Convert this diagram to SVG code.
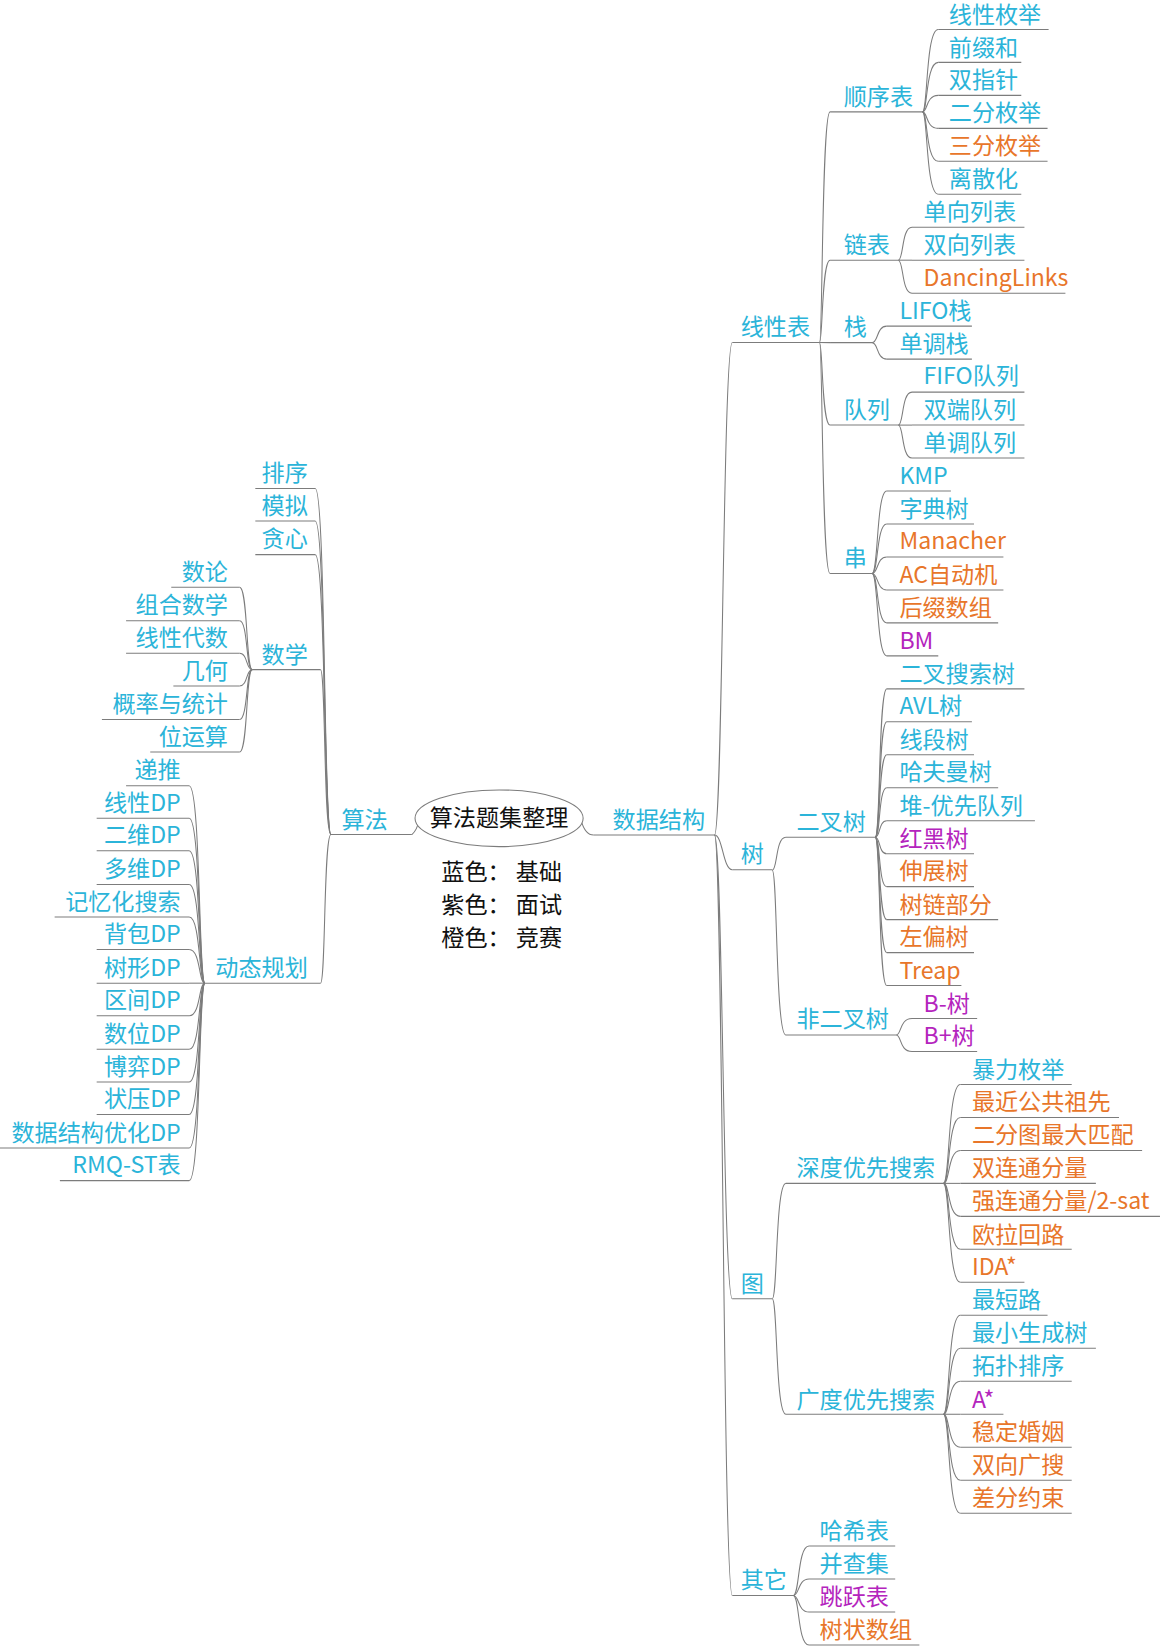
<svg xmlns="http://www.w3.org/2000/svg" width="1160" height="1647" viewBox="0 0 1160 1647">
<style>
text{font-family:"Noto Sans CJK SC","Liberation Sans",sans-serif;font-size:22px}
.b{fill:#2bb4d9}.o{fill:#e8762a}.p{fill:#b424bd}.k{fill:#111}
.ln{stroke:#7c7c7c;stroke-width:1;fill:none}
.e{text-anchor:end}
</style>
<rect width="1160" height="1647" fill="#fff"/>
<g transform="scale(1.0507,1.0504)">
<g id="connectors" class="ln">
<path d="M553,781 Q557,795 565,795"/>
<path d="M392,794.5 Q397,790 398,783"/>
<path d="M680,795 C688,795 688,326 697,326"/>
<path d="M680,795 C688,795 688,828 697,828"/>
<path d="M680,795 C688,795 688,1236.5 697,1236.5"/>
<path d="M680,795 C688,795 688,1519 697,1519"/>
<path d="M780,326 C783,326 782,106.5 790,106.5"/>
<path d="M780,326 C783,326 782,247.7 790,247.7"/>
<path d="M780,326 L790,326.2"/>
<path d="M780,326 C783,326 782,404.7 790,404.7"/>
<path d="M780,326 C783,326 782,546 790,546"/>
<path d="M878,106.5 C883,106.5 881,28 893,28"/>
<path d="M878,106.5 C883,106.5 881,59.4 893,59.4"/>
<path d="M878,106.5 C883,106.5 881,90.8 893,90.8"/>
<path d="M878,106.5 C883,106.5 881,122.2 893,122.2"/>
<path d="M878,106.5 C883,106.5 881,153.6 893,153.6"/>
<path d="M878,106.5 C883,106.5 881,184.9 893,184.9"/>
<path d="M855,247.7 C860,247.7 858,216.3 868,216.3"/>
<path d="M855,247.7 L868,247.7"/>
<path d="M855,247.7 C860,247.7 858,279.1 868,279.1"/>
<path d="M830,326.2 C836,326.2 834,310.5 844,310.5"/>
<path d="M830,326.2 C836,326.2 834,341.9 844,341.9"/>
<path d="M855,404.7 C860,404.7 858,373.3 868,373.3"/>
<path d="M855,404.7 L868,404.7"/>
<path d="M855,404.7 C860,404.7 858,436.1 868,436.1"/>
<path d="M830,546 C836,546 834,467.5 844,467.5"/>
<path d="M830,546 C836,546 834,498.9 844,498.9"/>
<path d="M830,546 C836,546 834,530.2 844,530.2"/>
<path d="M830,546 C836,546 834,561.6 844,561.6"/>
<path d="M830,546 C836,546 834,593 844,593"/>
<path d="M830,546 C836,546 834,624.4 844,624.4"/>
<path d="M735,828.4 C740,828.4 738,797.1 748,797.1"/>
<path d="M735,828.4 C740,828.4 738,985.4 748,985.4"/>
<path d="M833,797.1 C838,797.1 836,655.8 844,655.8"/>
<path d="M833,797.1 C838,797.1 836,687.2 844,687.2"/>
<path d="M833,797.1 C838,797.1 836,718.6 844,718.6"/>
<path d="M833,797.1 C838,797.1 836,750 844,750"/>
<path d="M833,797.1 C838,797.1 836,781.4 844,781.4"/>
<path d="M833,797.1 C838,797.1 836,812.8 844,812.8"/>
<path d="M833,797.1 C838,797.1 836,844.1 844,844.1"/>
<path d="M833,797.1 C838,797.1 836,875.5 844,875.5"/>
<path d="M833,797.1 C838,797.1 836,906.9 844,906.9"/>
<path d="M833,797.1 C838,797.1 836,938.3 844,938.3"/>
<path d="M853,985.4 C858,985.4 856,969.7 868,969.7"/>
<path d="M853,985.4 C858,985.4 856,1001.1 868,1001.1"/>
<path d="M735,1236.5 C740,1236.5 738,1126.6 748,1126.6"/>
<path d="M735,1236.5 C740,1236.5 738,1346.4 748,1346.4"/>
<path d="M898,1126.6 C904,1126.6 902,1032.5 914,1032.5"/>
<path d="M898,1126.6 C904,1126.6 902,1063.9 914,1063.9"/>
<path d="M898,1126.6 C904,1126.6 902,1095.3 914,1095.3"/>
<path d="M898,1126.6 L914,1126.6"/>
<path d="M898,1126.6 C904,1126.6 902,1158 914,1158"/>
<path d="M898,1126.6 C904,1126.6 902,1189.4 914,1189.4"/>
<path d="M898,1126.6 C904,1126.6 902,1220.8 914,1220.8"/>
<path d="M898,1346.4 C904,1346.4 902,1252.2 914,1252.2"/>
<path d="M898,1346.4 C904,1346.4 902,1283.6 914,1283.6"/>
<path d="M898,1346.4 C904,1346.4 902,1315 914,1315"/>
<path d="M898,1346.4 L914,1346.4"/>
<path d="M898,1346.4 C904,1346.4 902,1377.8 914,1377.8"/>
<path d="M898,1346.4 C904,1346.4 902,1409.2 914,1409.2"/>
<path d="M898,1346.4 C904,1346.4 902,1440.6 914,1440.6"/>
<path d="M755,1519 C761,1519 759,1471.9 770,1471.9"/>
<path d="M755,1519 C761,1519 759,1503.3 770,1503.3"/>
<path d="M755,1519 C761,1519 759,1534.7 770,1534.7"/>
<path d="M755,1519 C761,1519 759,1566.1 770,1566.1"/>
<path d="M315,794.5 C308,794.5 310,465 300,465"/>
<path d="M315,794.5 C308,794.5 310,496 300,496"/>
<path d="M315,794.5 C308,794.5 310,528 300,528"/>
<path d="M315,794.5 C308,794.5 310,637.5 305,637.5"/>
<path d="M315,794.5 C308,794.5 310,936 305,936"/>
<path d="M240,637.5 C234,637.5 236,559 228,559"/>
<path d="M240,637.5 C234,637.5 236,591 228,591"/>
<path d="M240,637.5 C234,637.5 236,622 228,622"/>
<path d="M240,637.5 C234,637.5 236,653 228,653"/>
<path d="M240,637.5 C234,637.5 236,685 228,685"/>
<path d="M240,637.5 C234,637.5 236,716 228,716"/>
<path d="M195,936 C189,936 191,748 180,748"/>
<path d="M195,936 C189,936 191,779 180,779"/>
<path d="M195,936 C189,936 191,810 180,810"/>
<path d="M195,936 C189,936 191,842 180,842"/>
<path d="M195,936 C189,936 191,873 180,873"/>
<path d="M195,936 C189,936 191,904 180,904"/>
<path d="M195,936 L180,936"/>
<path d="M195,936 C189,936 191,967 180,967"/>
<path d="M195,936 C189,936 191,999 180,999"/>
<path d="M195,936 C189,936 191,1030 180,1030"/>
<path d="M195,936 C189,936 191,1061 180,1061"/>
<path d="M195,936 C189,936 191,1093 180,1093"/>
<path d="M195,936 C189,936 191,1124 180,1124"/>
</g>
<g id="root"><ellipse cx="475" cy="779" rx="80" ry="27" fill="#fff" stroke="#7c7c7c"/><text x="475" y="786" class="k" text-anchor="middle">算法题集整理</text></g>
<g id="legend" class="k"><text x="420" y="838">蓝色：  基础</text><text x="420" y="869">紫色：  面试</text><text x="420" y="901">橙色：  竞赛</text></g>
<g id="n-sjjg"><path class="ln" d="M565,795 H680"/><text x="583" y="788" class="b">数据结构</text></g>
<g id="n-xxb"><path class="ln" d="M697,326 H780"/><text x="705" y="319" class="b">线性表</text></g>
<g id="n-shu"><path class="ln" d="M697,828 H735"/><text x="705" y="821" class="b">树</text></g>
<g id="n-tu"><path class="ln" d="M697,1236.5 H735"/><text x="705" y="1230" class="b">图</text></g>
<g id="n-qt"><path class="ln" d="M697,1519 H755"/><text x="705" y="1512" class="b">其它</text></g>
<g id="n-sxb"><path class="ln" d="M790,106.5 H878"/><text x="803" y="100" class="b">顺序表</text></g>
<g id="n-lb"><path class="ln" d="M790,247.7 H855"/><text x="803" y="241" class="b">链表</text></g>
<g id="n-zhan"><path class="ln" d="M790,326.2 H830"/><text x="803" y="319" class="b">栈</text></g>
<g id="n-dl"><path class="ln" d="M790,404.7 H855"/><text x="803" y="398" class="b">队列</text></g>
<g id="n-chuan"><path class="ln" d="M790,546 H830"/><text x="803" y="539" class="b">串</text></g>
<g id="n-ecs"><path class="ln" d="M748,797.1 H833"/><text x="758" y="790" class="b">二叉树</text></g>
<g id="n-fecs"><path class="ln" d="M748,985.4 H853"/><text x="758" y="978" class="b">非二叉树</text></g>
<g id="n-dfs"><path class="ln" d="M748,1126.6 H898"/><text x="758" y="1120" class="b">深度优先搜索</text></g>
<g id="n-bfs"><path class="ln" d="M748,1346.4 H898"/><text x="758" y="1340" class="b">广度优先搜索</text></g>
<g id="l0"><path class="ln" d="M893,28 H998"/><text x="903" y="22" class="b">线性枚举</text></g>
<g id="l1"><path class="ln" d="M893,59.4 H972"/><text x="903" y="53" class="b">前缀和</text></g>
<g id="l2"><path class="ln" d="M893,90.8 H972"/><text x="903" y="84" class="b">双指针</text></g>
<g id="l3"><path class="ln" d="M893,122.2 H997"/><text x="903" y="115" class="b">二分枚举</text></g>
<g id="l4"><path class="ln" d="M893,153.6 H997"/><text x="903" y="147" class="o">三分枚举</text></g>
<g id="l5"><path class="ln" d="M893,184.9 H972"/><text x="903" y="178" class="b">离散化</text></g>
<g id="l6"><path class="ln" d="M868,216.3 H975"/><text x="879" y="209" class="b">单向列表</text></g>
<g id="l7"><path class="ln" d="M868,247.7 H975"/><text x="879" y="241" class="b">双向列表</text></g>
<g id="l8"><path class="ln" d="M868,279.1 H1014"/><text x="879" y="272" class="o">DancingLinks</text></g>
<g id="l9"><path class="ln" d="M844,310.5 H925"/><text x="856" y="304" class="b">LIFO栈</text></g>
<g id="l10"><path class="ln" d="M844,341.9 H925"/><text x="856" y="335" class="b">单调栈</text></g>
<g id="l11"><path class="ln" d="M868,373.3 H975"/><text x="879" y="366" class="b">FIFO队列</text></g>
<g id="l12"><path class="ln" d="M868,404.7 H975"/><text x="879" y="398" class="b">双端队列</text></g>
<g id="l13"><path class="ln" d="M868,436.1 H975"/><text x="879" y="429" class="b">单调队列</text></g>
<g id="l14"><path class="ln" d="M844,467.5 H905"/><text x="856" y="461" class="b">KMP</text></g>
<g id="l15"><path class="ln" d="M844,498.9 H927"/><text x="856" y="492" class="b">字典树</text></g>
<g id="l16"><path class="ln" d="M844,530.2 H955"/><text x="856" y="523" class="o">Manacher</text></g>
<g id="l17"><path class="ln" d="M844,561.6 H955"/><text x="856" y="555" class="o">AC自动机</text></g>
<g id="l18"><path class="ln" d="M844,593 H950"/><text x="856" y="586" class="o">后缀数组</text></g>
<g id="l19"><path class="ln" d="M844,624.4 H893"/><text x="856" y="618" class="p">BM</text></g>
<g id="l20"><path class="ln" d="M844,655.8 H975"/><text x="856" y="649" class="b">二叉搜索树</text></g>
<g id="l21"><path class="ln" d="M844,687.2 H925"/><text x="856" y="680" class="b">AVL树</text></g>
<g id="l22"><path class="ln" d="M844,718.6 H927"/><text x="856" y="712" class="b">线段树</text></g>
<g id="l23"><path class="ln" d="M844,750 H950"/><text x="856" y="743" class="b">哈夫曼树</text></g>
<g id="l24"><path class="ln" d="M844,781.4 H985"/><text x="856" y="775" class="b">堆-优先队列</text></g>
<g id="l25"><path class="ln" d="M844,812.8 H927"/><text x="856" y="806" class="p">红黑树</text></g>
<g id="l26"><path class="ln" d="M844,844.1 H927"/><text x="856" y="837" class="o">伸展树</text></g>
<g id="l27"><path class="ln" d="M844,875.5 H950"/><text x="856" y="869" class="o">树链部分</text></g>
<g id="l28"><path class="ln" d="M844,906.9 H927"/><text x="856" y="900" class="o">左偏树</text></g>
<g id="l29"><path class="ln" d="M844,938.3 H915"/><text x="856" y="932" class="o">Treap</text></g>
<g id="l30"><path class="ln" d="M868,969.7 H930"/><text x="879" y="963" class="p">B-树</text></g>
<g id="l31"><path class="ln" d="M868,1001.1 H930"/><text x="879" y="994" class="p">B+树</text></g>
<g id="l32"><path class="ln" d="M914,1032.5 H1020"/><text x="925" y="1026" class="b">暴力枚举</text></g>
<g id="l33"><path class="ln" d="M914,1063.9 H1065"/><text x="925" y="1057" class="o">最近公共祖先</text></g>
<g id="l34"><path class="ln" d="M914,1095.3 H1087"/><text x="925" y="1088" class="o">二分图最大匹配</text></g>
<g id="l35"><path class="ln" d="M914,1126.6 H1043"/><text x="925" y="1120" class="o">双连通分量</text></g>
<g id="l36"><path class="ln" d="M914,1158 H1104"/><text x="925" y="1151" class="o">强连通分量/2-sat</text></g>
<g id="l37"><path class="ln" d="M914,1189.4 H1020"/><text x="925" y="1183" class="o">欧拉回路</text></g>
<g id="l38"><path class="ln" d="M914,1220.8 H975"/><text x="925" y="1214" class="o">IDA*</text></g>
<g id="l39"><path class="ln" d="M914,1252.2 H997"/><text x="925" y="1245" class="b">最短路</text></g>
<g id="l40"><path class="ln" d="M914,1283.6 H1043"/><text x="925" y="1277" class="b">最小生成树</text></g>
<g id="l41"><path class="ln" d="M914,1315 H1020"/><text x="925" y="1308" class="b">拓扑排序</text></g>
<g id="l42"><path class="ln" d="M914,1346.4 H955"/><text x="925" y="1340" class="p">A*</text></g>
<g id="l43"><path class="ln" d="M914,1377.8 H1020"/><text x="925" y="1371" class="o">稳定婚姻</text></g>
<g id="l44"><path class="ln" d="M914,1409.2 H1020"/><text x="925" y="1402" class="o">双向广搜</text></g>
<g id="l45"><path class="ln" d="M914,1440.6 H1020"/><text x="925" y="1434" class="o">差分约束</text></g>
<g id="l46"><path class="ln" d="M770,1471.9 H852"/><text x="780" y="1465" class="b">哈希表</text></g>
<g id="l47"><path class="ln" d="M770,1503.3 H852"/><text x="780" y="1497" class="b">并查集</text></g>
<g id="l48"><path class="ln" d="M770,1534.7 H852"/><text x="780" y="1528" class="p">跳跃表</text></g>
<g id="l49"><path class="ln" d="M770,1566.1 H875"/><text x="780" y="1559" class="o">树状数组</text></g>
<g id="n-sf"><path class="ln" d="M315,794.5 H392"/><text x="325" y="788" class="b">算法</text></g>
<g id="n-px"><path class="ln" d="M243,465 H300"/><text x="293" y="458" class="b e">排序</text></g>
<g id="n-mn"><path class="ln" d="M243,496 H300"/><text x="293" y="489" class="b e">模拟</text></g>
<g id="n-tx"><path class="ln" d="M243,528 H300"/><text x="293" y="521" class="b e">贪心</text></g>
<g id="n-sx"><path class="ln" d="M240,637.5 H305"/><text x="293" y="631" class="b e">数学</text></g>
<g id="n-dt"><path class="ln" d="M195,936 H305"/><text x="293" y="929" class="b e">动态规划</text></g>
<g id="m0"><path class="ln" d="M163,559 H228"/><text x="217" y="552" class="b e">数论</text></g>
<g id="m1"><path class="ln" d="M120,591 H228"/><text x="217" y="584" class="b e">组合数学</text></g>
<g id="m2"><path class="ln" d="M120,622 H228"/><text x="217" y="615" class="b e">线性代数</text></g>
<g id="m3"><path class="ln" d="M165,653 H228"/><text x="217" y="646" class="b e">几何</text></g>
<g id="m4"><path class="ln" d="M97,685 H228"/><text x="217" y="678" class="b e">概率与统计</text></g>
<g id="m5"><path class="ln" d="M143,716 H228"/><text x="217" y="709" class="b e">位运算</text></g>
<g id="d0"><path class="ln" d="M120,748 H180"/><text x="172" y="741" class="b e">递推</text></g>
<g id="d1"><path class="ln" d="M92,779 H180"/><text x="172" y="772" class="b e">线性DP</text></g>
<g id="d2"><path class="ln" d="M92,810 H180"/><text x="172" y="803" class="b e">二维DP</text></g>
<g id="d3"><path class="ln" d="M92,842 H180"/><text x="172" y="835" class="b e">多维DP</text></g>
<g id="d4"><path class="ln" d="M52,873 H180"/><text x="172" y="866" class="b e">记忆化搜索</text></g>
<g id="d5"><path class="ln" d="M92,904 H180"/><text x="172" y="897" class="b e">背包DP</text></g>
<g id="d6"><path class="ln" d="M92,936 H180"/><text x="172" y="929" class="b e">树形DP</text></g>
<g id="d7"><path class="ln" d="M92,967 H180"/><text x="172" y="960" class="b e">区间DP</text></g>
<g id="d8"><path class="ln" d="M92,999 H180"/><text x="172" y="992" class="b e">数位DP</text></g>
<g id="d9"><path class="ln" d="M92,1030 H180"/><text x="172" y="1023" class="b e">博弈DP</text></g>
<g id="d10"><path class="ln" d="M92,1061 H180"/><text x="172" y="1054" class="b e">状压DP</text></g>
<g id="d11"><path class="ln" d="M0,1093 H180"/><text x="172" y="1086" class="b e">数据结构优化DP</text></g>
<g id="d12"><path class="ln" d="M57,1124 H180"/><text x="172" y="1117" class="b e">RMQ-ST表</text></g>
</g>
</svg>
